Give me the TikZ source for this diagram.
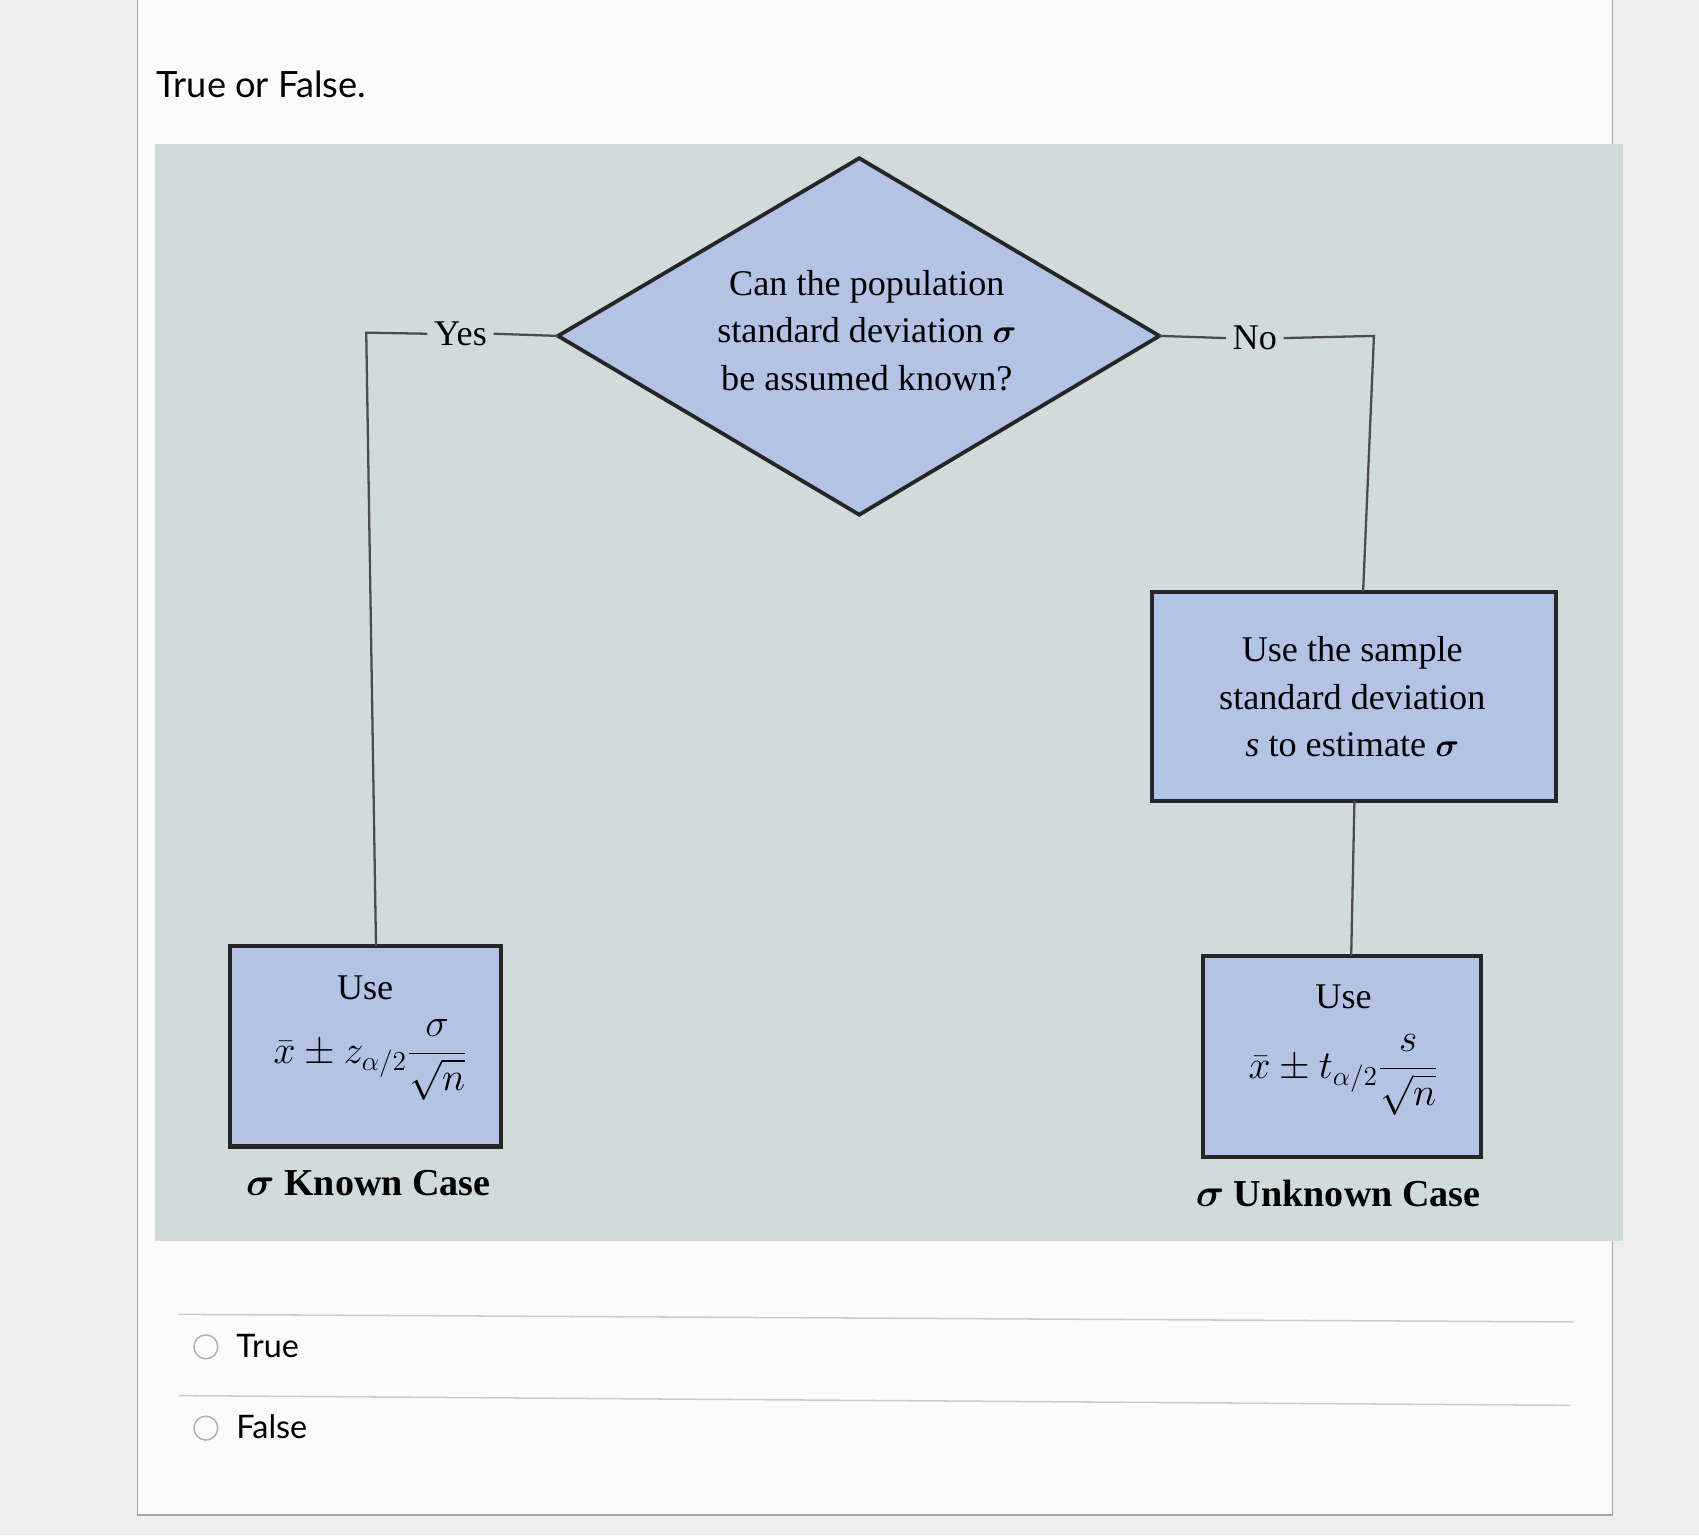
\documentclass[tikz,border=0pt]{standalone}
\usepackage{amsmath}
\usepackage{fontspec}
\setmainfont{Liberation Serif}
\newfontfamily\uisans{Lato}
\usetikzlibrary{shapes.geometric}
\definecolor{panel}{HTML}{D0DCDC}
\definecolor{boxblue}{HTML}{B3C3E6}
\definecolor{page}{HTML}{EEEEEE}
\tikzset{
  bluebox/.style={draw=black!85,line width=2.2pt,fill=boxblue},
  conn/.style={draw=black!70,line width=1.2pt},
  dtext/.style={font=\fontsize{19}{25}\selectfont,align=center},
  ftext/.style={font=\fontsize{22}{26}\selectfont},
  ctext/.style={font=\fontsize{20}{24}\selectfont\bfseries},
  uitext/.style={font=\uisans\fontsize{17}{20}\selectfont,anchor=west}
}
\begin{document}
\begin{tikzpicture}[x=0.02cm,y=-0.02cm]
\useasboundingbox (0,0) rectangle (1568,1417);
\fill[page] (0,0) rectangle (1568,1417);
\fill[white!97!gray] (127,0) rectangle (1488,1398);
\draw[black!35,line width=0.8pt] (127,0) -- (127,1398) -- (1488,1398) -- (1488,0);
\node[font=\uisans\fontsize{19}{22}\selectfont,anchor=west] (title) at (138,78) {True or False.};
\fill[panel] (143,133) rectangle (1498,1145);
% diamond
\fill[boxblue,draw=black!85,line width=2pt] (793,146) -- (1070,310) -- (793,475) -- (515,310) -- cycle;
\coordinate (dw) at (515,310);
\coordinate (de) at (1070,310);
\node[dtext] (q) at (800,305) {Can the population\\ standard deviation $\boldsymbol{\sigma}$\\be assumed known?};
% left box
\draw[bluebox] (212,873) rectangle (462,1058);
\coordinate (lbt) at (347,873);
\node[dtext] (lbu) at (337,912) {Use};
\node[ftext] (lbf) at (342,978) {$\bar{x}\pm z_{\alpha/2}\dfrac{\sigma}{\sqrt{n}}$};
\node[ctext] (kc) at (340,1092) {$\boldsymbol{\sigma}$ Known Case};
% right boxes
\draw[bluebox] (1063,546) rectangle (1436,739);
\coordinate (rb1t) at (1258,546);
\coordinate (rb1b) at (1250,739);
\node[dtext] (rb1) at (1248,643) {Use the sample\\standard deviation\\ \textit{s} to estimate $\boldsymbol{\sigma}$};
\draw[bluebox] (1110,882) rectangle (1367,1068);
\coordinate (rb2t) at (1247,882);
\node[dtext] (rbu) at (1240,920) {Use};
\node[ftext] (rbf) at (1240,992) {$\bar{x}\pm t_{\alpha/2}\dfrac{s}{\sqrt{n}}$};
\node[ctext] (uc) at (1235,1101) {$\boldsymbol{\sigma}$ Unknown Case};
% connectors
\node[dtext] (yes) at (425,308) {Yes};
\node[dtext] (no) at (1158,312) {No};
\coordinate (yl) at (338,307);
\coordinate (nr) at (1268,310);
\draw[conn] (dw) -- (yes.east);
\draw[conn] (yes.west) -- (yl) -- (lbt);
\draw[conn] (de) -- (no.west);
\draw[conn] (no.east) -- (nr) -- (rb1t);
\draw[conn] (rb1b) -- (rb2t);
% answers
\draw[black!20,line width=0.8pt] (165,1213) -- (1452,1220);
\draw[black!20,line width=0.8pt] (165,1288) -- (1450,1297);
\node[circle,draw=black!30,line width=0.8pt,inner sep=0pt,minimum size=0.44cm] (r1) at (190,1243) {};
\node[circle,draw=black!30,line width=0.8pt,inner sep=0pt,minimum size=0.44cm] (r2) at (190,1318) {};
\node[uitext] (t) at (212,1242) {True};
\node[uitext] (f) at (212,1317) {False};
\end{tikzpicture}
\end{document}
